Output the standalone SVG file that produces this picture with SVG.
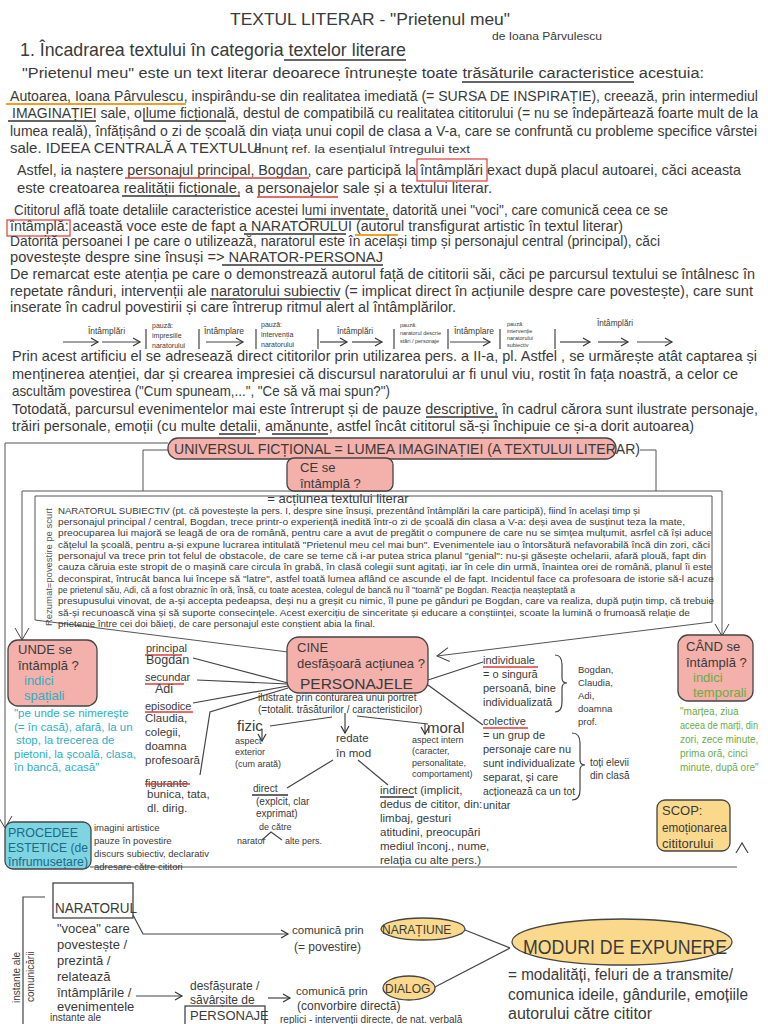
<svg xmlns="http://www.w3.org/2000/svg" width="768" height="1024" viewBox="0 0 768 1024">
<defs>
<style>
text{font-family:"Liberation Sans",Arial,sans-serif;fill:#3a3a3a}
.p{font-size:14.5px}
.w{font-size:14px}
.q{font-size:14px}
.s{font-size:9.5px}
.f{font-size:7px}
.ff{font-size:5.5px}
.m{font-size:11.5px}
.k{font-size:11px}
.n{font-size:13px}
.cy{fill:#2ab0c5}
.gr{fill:#6aad48}
.bl{fill:#1b6a86}
.ul{stroke:#333;stroke-width:1.3;fill:none}
.ur{stroke:#e03a3a;stroke-width:1.5;fill:none}
.uo{stroke:#f0a020;stroke-width:2;fill:none}
.ln{stroke:#444;stroke-width:1.2;fill:none}
.lt{stroke:#555;stroke-width:1;fill:none}
.pink{fill:#f4b0aa;stroke:#444;stroke-width:1.3}
.cyan{fill:#7fd4e2;stroke:#444;stroke-width:1.3}
.yel{fill:#fad98d;stroke:#444;stroke-width:1.3}
</style>
<marker id="ar" markerWidth="10" markerHeight="10" refX="8" refY="5" orient="auto" markerUnits="userSpaceOnUse"><path d="M1,1 L8,5 L1,9" fill="none" stroke="#333" stroke-width="1.2"/></marker>
<marker id="big" markerWidth="16" markerHeight="16" refX="13" refY="8" orient="auto" markerUnits="userSpaceOnUse"><path d="M1,1 L13,8 L1,15" fill="none" stroke="#444" stroke-width="1"/></marker>
</defs>
<rect width="768" height="1024" fill="#fff"/>

<g id="header">
<text x="230" y="25" font-size="17" textLength="280" lengthAdjust="spacingAndGlyphs">TEXTUL LITERAR - "Prietenul meu"</text>
<text x="492" y="40" font-size="11" textLength="110" lengthAdjust="spacingAndGlyphs">de Ioana Pârvulescu</text>
<text x="20" y="56" font-size="19" textLength="386" lengthAdjust="spacingAndGlyphs">1. Încadrarea textului în categoria textelor literare</text>
<line class="ul" x1="284" y1="60" x2="406" y2="60"/>
</g>

<g id="intro">
<text x="22" y="78" font-size="15.5" textLength="682" lengthAdjust="spacingAndGlyphs">"Prietenul meu" este un text literar deoarece întrunește toate trăsăturile caracteristice acestuia:</text>
<line class="ul" x1="462" y1="82" x2="634" y2="82"/>
<text class="w" x="10" y="101" textLength="748" lengthAdjust="spacingAndGlyphs">Autoarea, Ioana Pârvulescu, inspirându-se din realitatea imediată (= SURSA DE INSPIRAȚIE), creează, prin intermediul</text>
<line class="uo" x1="6" y1="104" x2="186" y2="104"/>
<text class="w" x="12" y="118" textLength="746" lengthAdjust="spacingAndGlyphs">IMAGINAȚIEI sale, o lume ficțională, destul de compatibilă cu realitatea cititorului (= nu se îndepărtează foarte mult de la</text>
<line class="ul" x1="8" y1="121" x2="96" y2="121"/>
<path class="ul" d="M144,108 L144,121 L226,121"/>
<text class="w" x="10" y="136" textLength="747" lengthAdjust="spacingAndGlyphs">lumea reală), înfățișând o zi de școală din viața unui copil de clasa a V-a, care se confruntă cu probleme specifice vârstei</text>
<text class="p" x="10" y="153" textLength="252" lengthAdjust="spacingAndGlyphs">sale.  IDEEA CENTRALĂ A TEXTULUI</text>
<text x="254" y="153" font-size="11" textLength="216" lengthAdjust="spacingAndGlyphs">enunț ref. la esențialul întregului text</text>

<text class="p" x="17" y="175" textLength="724" lengthAdjust="spacingAndGlyphs">Astfel, ia naștere personajul principal, Bogdan, care participă la întâmplări exact după placul autoarei, căci aceasta</text>
<line class="ur" x1="125" y1="178" x2="309" y2="178"/>
<rect x="417" y="159" width="70" height="22" fill="none" stroke="#e03a3a" stroke-width="1.2"/>
<text class="p" x="17" y="193" textLength="475" lengthAdjust="spacingAndGlyphs">este creatoarea realității ficționale, a personajelor sale și a textului literar.</text>
<line class="ul" x1="122" y1="196" x2="240" y2="196"/>
<line class="ur" x1="257" y1="197" x2="338" y2="197"/>

<text class="q" x="14" y="215" textLength="654" lengthAdjust="spacingAndGlyphs">Cititorul află toate detaliile caracteristice acestei lumi inventate, datorită unei "voci", care comunică ceea ce se</text>
<line class="ul" x1="305" y1="219" x2="389" y2="219"/>
<text class="q" x="10" y="231" textLength="613" lengthAdjust="spacingAndGlyphs">întâmplă: această voce este de fapt a NARATORULUI (autorul transfigurat artistic în textul literar)</text>
<rect x="7" y="220" width="63" height="16" fill="none" stroke="#e03a3a" stroke-width="1.2"/>
<line class="ul" x1="244" y1="234" x2="346" y2="234"/>
<line class="uo" x1="355" y1="235" x2="398" y2="235"/>
<text class="q" x="10" y="246" textLength="650" lengthAdjust="spacingAndGlyphs">Datorită persoanei I pe care o utilizează, naratorul este în același timp și personajul central (principal), căci</text>
<text class="q" x="10" y="262" textLength="373" lengthAdjust="spacingAndGlyphs">povestește despre sine însuși =&gt; NARATOR-PERSONAJ</text>
<line class="ul" x1="222" y1="265" x2="383" y2="265"/>
<text class="q" x="10" y="279" textLength="745" lengthAdjust="spacingAndGlyphs">De remarcat este atenția pe care o demonstrează autorul față de cititorii săi, căci pe parcursul textului se întâlnesc în</text>
<text class="q" x="10" y="296" textLength="743" lengthAdjust="spacingAndGlyphs">repetate rânduri, intervenții ale naratorului subiectiv (= implicat direct în acțiunile despre care povestește), care sunt</text>
<line class="ul" x1="210" y1="299" x2="340" y2="299"/>
<text class="q" x="10" y="312" textLength="446" lengthAdjust="spacingAndGlyphs">inserate în cadrul povestirii și care întrerup ritmul alert al întâmplărilor.</text>
</g>

<g id="flow">
<text x="88" y="334" font-size="9" textLength="37" lengthAdjust="spacingAndGlyphs">Întâmplări</text>
<text class="f" x="152" y="328">pauză:</text>
<text class="f" x="152" y="338">impresiile</text>
<text class="f" x="152" y="348">naratorului</text>
<text x="204" y="334" font-size="9" textLength="40" lengthAdjust="spacingAndGlyphs">Întâmplare</text>
<text class="f" x="261" y="327">pauză:</text>
<text class="f" x="261" y="337">intervenția</text>
<text class="f" x="261" y="347">naratorului</text>
<text x="337" y="334" font-size="9" textLength="36" lengthAdjust="spacingAndGlyphs">Întâmplări</text>
<text class="ff" x="400" y="327">pauză:</text>
<text class="ff" x="400" y="335">naratorul descrie</text>
<text class="ff" x="400" y="343">stări / personaje</text>
<text x="454" y="334" font-size="9" textLength="40" lengthAdjust="spacingAndGlyphs">Întâmplare</text>
<text class="ff" x="507" y="326">pauză:</text>
<text class="ff" x="507" y="333">intervenție</text>
<text class="ff" x="507" y="340">naratorului</text>
<text class="ff" x="507" y="347">subiectiv</text>
<text x="597" y="326" font-size="9" textLength="36" lengthAdjust="spacingAndGlyphs">Întâmplări</text>
<g class="ln" marker-end="url(#ar)">
<line x1="63" y1="342" x2="98" y2="342"/>
<line x1="102" y1="342" x2="140" y2="342"/>
<line x1="206" y1="342" x2="243" y2="342"/>
<line x1="320" y1="342" x2="347" y2="342"/>
<line x1="352" y1="342" x2="382" y2="342"/>
<line x1="450" y1="342" x2="490" y2="342"/>
<line x1="560" y1="342" x2="590" y2="342"/>
<line x1="598" y1="342" x2="628" y2="342"/>
<line x1="637" y1="342" x2="672" y2="342"/>
</g>
<g class="ln">
<line x1="146" y1="329" x2="146" y2="349"/>
<line x1="199" y1="329" x2="199" y2="349"/>
<line x1="256" y1="329" x2="256" y2="349"/>
<line x1="318" y1="329" x2="318" y2="349"/>
<line x1="394" y1="329" x2="394" y2="349"/>
<line x1="448" y1="329" x2="448" y2="349"/>
<line x1="500" y1="329" x2="500" y2="349"/>
<line x1="555" y1="329" x2="555" y2="349"/>
</g>
</g>

<g id="after-flow">
<text class="p" x="12" y="361" textLength="745" lengthAdjust="spacingAndGlyphs">Prin acest artificiu el se adresează direct cititorilor prin utilizarea pers. a II-a, pl. Astfel , se urmărește atât captarea și</text>
<text class="p" x="12" y="379" textLength="726" lengthAdjust="spacingAndGlyphs">menținerea atenției, dar și crearea impresiei că discursul naratorului ar fi unul viu, rostit în fața noastră, a celor ce</text>
<text class="p" x="12" y="396" textLength="378" lengthAdjust="spacingAndGlyphs">ascultăm povestirea ("Cum spuneam,...", "Ce să vă mai spun?")</text>
<text class="p" x="12" y="414" textLength="746" lengthAdjust="spacingAndGlyphs">Totodată, parcursul evenimentelor mai este întrerupt și de pauze descriptive, în cadrul cărora sunt ilustrate personaje,</text>
<line class="ul" x1="426" y1="417" x2="498" y2="417"/>
<text class="p" x="12" y="431" textLength="682" lengthAdjust="spacingAndGlyphs">trăiri personale, emoții (cu multe detalii, amănunte, astfel încât cititorul să-și închipuie ce și-a dorit autoarea)</text>
<line class="ul" x1="219" y1="434" x2="256" y2="434"/>
<line class="ul" x1="272" y1="434" x2="328" y2="434"/>
</g>

<g id="connectors">
<polyline class="lt" points="168,443 5,443 5,828" marker-end="url(#big)"/>
<polyline class="lt" points="168,450 143,450 143,491"/>
<polyline class="lt" points="640,450 656,450 656,491"/>
<line class="lt" x1="22" y1="491" x2="722" y2="491"/>
<line class="lt" x1="22" y1="491" x2="22" y2="640" marker-end="url(#big)"/>
<line class="lt" x1="722" y1="491" x2="722" y2="636" marker-end="url(#big)"/>
<polyline class="lt" points="35,620 35,496 712,496 712,622"/>
<line class="lt" x1="35" y1="620" x2="288" y2="652"/>
<line class="lt" x1="712" y1="622" x2="437" y2="656" marker-end="url(#big)"/>
<line class="ln" x1="193" y1="658" x2="288" y2="683"/>
<line class="ln" x1="197" y1="680" x2="288" y2="684"/>
<line class="ln" x1="193" y1="703" x2="288" y2="686"/>
<polyline class="ln" points="200,775 210,712 288,688"/>
<line class="ln" x1="428" y1="680" x2="483" y2="662"/>
<line class="ln" x1="428" y1="685" x2="483" y2="725"/>
<line class="ln" x1="270" y1="726" x2="332" y2="717"/>
<line class="ln" x1="357" y1="716" x2="428" y2="724"/>
<line class="ln" x1="345" y1="713" x2="345" y2="733" marker-end="url(#ar)"/>
<line class="ln" x1="262" y1="729" x2="262" y2="741" marker-end="url(#ar)"/>
<line class="ln" x1="425" y1="724" x2="425" y2="734" marker-end="url(#ar)"/>
<line class="ln" x1="333" y1="760" x2="287" y2="788"/>
<line class="ln" x1="358" y1="760" x2="388" y2="785"/>
<polyline class="ln" points="262,840 271,832 282,840"/>
<path class="ln" d="M555,655 Q562,655 562,665 L562,678 Q562,683 567,683 Q562,683 562,688 L562,702 Q562,712 555,712"/>
<path class="ln" d="M572,733 Q580,733 580,743 L580,760 Q580,765 585,765 Q580,765 580,770 L580,790 Q580,800 572,800"/>
<path class="ln" d="M736,853 L742,843 L748,853"/>
<line class="lt" x1="90" y1="867" x2="737" y2="867"/>
<polyline class="ln" points="45,897 23,897 23,1024"/>
<polyline class="ln" points="133,915 143,934 288,934" marker-end="url(#ar)"/>
<line class="ln" x1="136" y1="996" x2="182" y2="996" marker-end="url(#ar)"/>
<line class="ln" x1="268" y1="998" x2="290" y2="998" marker-end="url(#ar)"/>
<line class="ln" x1="465" y1="930" x2="510" y2="948"/>
<line class="ln" x1="433" y1="988" x2="510" y2="948"/>
</g>

<g id="universul">
<rect class="pink" x="168" y="438" width="448" height="21" rx="10"/>
<text x="174" y="454" font-size="14.5" textLength="466" lengthAdjust="spacingAndGlyphs">UNIVERSUL FICȚIONAL  =  LUMEA IMAGINAȚIEI (A TEXTULUI LITERAR)</text>
</g>

<g id="ce">
<rect class="pink" x="287" y="458" width="106" height="33" rx="7"/>
<text class="n" x="300" y="472">CE se</text>
<text class="n" x="300" y="488">întâmplă ?</text>
<text class="n" x="338" y="503" text-anchor="middle">= acțiunea textului literar</text>
</g>

<g id="rezumat">
<text class="s" transform="translate(52,626) rotate(-90)" textLength="118" lengthAdjust="spacingAndGlyphs" style="fill:#555">Rezumat=povestire pe scurt</text>
<text class="s" x="58" y="514" textLength="582" lengthAdjust="spacingAndGlyphs">NARATORUL SUBIECTIV (pt. că povestește la pers. I, despre sine însuși, prezentând întâmplări la care participă), fiind în același timp și</text>
<text class="s" x="58" y="525" textLength="627" lengthAdjust="spacingAndGlyphs">personajul principal / central, Bogdan, trece printr-o experiență inedită într-o zi de școală din clasa a V-a: deși avea de susținut teza la mate,</text>
<text class="s" x="58" y="536" textLength="654" lengthAdjust="spacingAndGlyphs">preocuparea lui majoră se leagă de ora de română, pentru care a avut de pregătit o compunere de care nu se simțea mulțumit, asrfel că își aduce</text>
<text class="s" x="58" y="548" textLength="652" lengthAdjust="spacingAndGlyphs">cățelul la școală, pentru a-și expune lucrarea intitulată "Prietenul meu cel mai bun". Evenimentele iau o întorsătură nefavorabilă încă din zori, căci</text>
<text class="s" x="58" y="559" textLength="648" lengthAdjust="spacingAndGlyphs">personajul va trece prin tot felul de obstacole, de care se teme că i-ar putea strica planul "genial": nu-și găsește ochelarii, afară plouă, fapt din</text>
<text class="s" x="58" y="570" textLength="654" lengthAdjust="spacingAndGlyphs">cauza căruia este stropit de o mașină care circula în grabă, în clasă colegii sunt agitați, iar în cele din urmă, înaintea orei de română, planul îi este</text>
<text class="s" x="58" y="582" textLength="656" lengthAdjust="spacingAndGlyphs">deconspirat, întrucât banca lui începe să "latre", astfel toată lumea aflând ce ascunde el de fapt. Incidentul face ca profesoara de istorie să-l acuze</text>
<text class="s" x="58" y="593" textLength="517" lengthAdjust="spacingAndGlyphs">pe prietenul său, Adi, că a fost obraznic în oră, însă, cu toate acestea, colegul de bancă nu îl "toarnă" pe Bogdan. Reacția neașteptată a</text>
<text class="s" x="58" y="604" textLength="656" lengthAdjust="spacingAndGlyphs">presupusului vinovat, de a-și accepta pedeapsa, deși nu a greșit cu nimic, îl pune pe gânduri pe Bogdan, care va realiza, după puțin timp, că trebuie</text>
<text class="s" x="58" y="616" textLength="632" lengthAdjust="spacingAndGlyphs">să-și recunoască vina și să suporte consecințele. Acest exercițiu de sinceritate și educare a conștiinței, scoate la lumină o frumoasă relație de</text>
<text class="s" x="58" y="627" textLength="317" lengthAdjust="spacingAndGlyphs">prietenie între cei doi băieți, de care personajul este conștient abia la final.</text>
</g>

<g id="unde">
<rect class="pink" x="8" y="640" width="89" height="66" rx="10"/>
<text class="n" x="18" y="654">UNDE se</text>
<text class="n" x="18" y="670">întâmplă ?</text>
<text class="n cy" x="24" y="685">indici</text>
<text class="n cy" x="24" y="700">spațiali</text>
<text class="m cy" x="14" y="717">"pe unde se nimerește</text>
<text class="m cy" x="14" y="731">(= în casă), afară, la un</text>
<text class="m cy" x="16" y="744">stop, la trecerea de</text>
<text class="m cy" x="14" y="758">pietoni, la școală, clasa,</text>
<text class="m cy" x="14" y="771">în bancă, acasă"</text>
</g>

<g id="tipuri-personaje">
<text x="146" y="652" font-size="11">principal</text>
<line class="ur" x1="145" y1="655" x2="182" y2="655"/>
<text x="146" y="664" font-size="12.5">Bogdan</text>
<text x="145" y="681" font-size="11">secundar</text>
<line class="ur" x1="145" y1="684" x2="184" y2="684"/>
<text x="155" y="693" font-size="12.5">Adi</text>
<text x="145" y="710" font-size="11">episodice</text>
<line class="ur" x1="145" y1="712" x2="193" y2="712"/>
<text class="m" x="145" y="722">Claudia,</text>
<text class="m" x="145" y="736">colegii,</text>
<text class="m" x="145" y="750">doamna</text>
<text class="m" x="145" y="764">profesoară</text>
<text x="145" y="787" font-size="11">figurante</text>
<line class="ur" x1="145" y1="784" x2="190" y2="784"/>
<text class="m" x="147" y="798">bunica, tata,</text>
<text class="m" x="147" y="812">dl. dirig.</text>
</g>

<g id="cine">
<rect class="pink" x="287" y="637" width="141" height="56" rx="12"/>
<text class="n" x="297" y="652">CINE</text>
<text class="n" x="297" y="668">desfășoară acțiunea ?</text>
<text x="300" y="689" font-size="15.5">PERSONAJELE</text>
<text x="258" y="701" font-size="10">ilustrate prin conturarea unui portret</text>
<text x="258" y="713" font-size="10">(=totalit. trăsăturilor / caracteristicilor)</text>
</g>

<g id="fizic">
<text x="237" y="731" font-size="15">fizic</text>
<text x="235" y="744" font-size="9">aspect</text>
<text x="235" y="755" font-size="9">exterior</text>
<text x="235" y="767" font-size="9">(cum arată)</text>
</g>

<g id="redate">
<text x="336" y="742" font-size="11.5">redate</text>
<text x="336" y="757" font-size="11.5">în mod</text>
</g>

<g id="moral">
<text x="427" y="733" font-size="15">moral</text>
<text x="412" y="743" font-size="9">aspect intern</text>
<text x="412" y="754" font-size="9">(caracter,</text>
<text x="412" y="766" font-size="9">personalitate,</text>
<text x="412" y="777" font-size="9">comportament)</text>
</g>

<g id="direct">
<text x="253" y="792" font-size="10">direct</text>
<line class="ul" x1="252" y1="795" x2="288" y2="795"/>
<text x="256" y="805" font-size="10">(explcit, clar</text>
<text x="256" y="817" font-size="10">exprimat)</text>
<text x="259" y="830" font-size="9">de către</text>
<text x="237" y="844" font-size="9">narator</text>
<text x="285" y="844" font-size="9">alte pers.</text>
</g>

<g id="indirect">
<text class="m" x="380" y="794">indirect (implicit,</text>
<line class="ul" x1="380" y1="797" x2="414" y2="797"/>
<text class="m" x="380" y="808">dedus de cititor, din:</text>
<text class="m" x="380" y="822">limbaj, gesturi</text>
<text class="m" x="380" y="836">atitudini, preocupări</text>
<text class="m" x="380" y="850">mediul înconj., nume,</text>
<text class="m" x="380" y="864">relația cu alte pers.)</text>
</g>

<g id="individuale">
<text class="k" x="483" y="664">individuale</text>
<line class="ur" x1="483" y1="667" x2="538" y2="667"/>
<text class="k" x="483" y="678">= o singură</text>
<text class="k" x="483" y="692">persoană, bine</text>
<text class="k" x="483" y="706">individualizată</text>
<text x="578" y="673" font-size="9.5">Bogdan,</text>
<text x="578" y="686" font-size="9.5">Claudia,</text>
<text x="578" y="699" font-size="9.5">Adi,</text>
<text x="578" y="712" font-size="9.5">doamna</text>
<text x="578" y="725" font-size="9.5">prof.</text>
</g>

<g id="colective">
<text class="k" x="483" y="725">colective</text>
<line class="ur" x1="483" y1="728" x2="528" y2="728"/>
<text class="k" x="483" y="739">= un grup de</text>
<text class="k" x="483" y="753">personaje care nu</text>
<text class="k" x="483" y="767" textLength="92" lengthAdjust="spacingAndGlyphs">sunt individualizate</text>
<text class="k" x="483" y="781">separat, și care</text>
<text class="k" x="483" y="795" textLength="92" lengthAdjust="spacingAndGlyphs">acționează ca un tot</text>
<text class="k" x="483" y="809">unitar</text>
<text x="590" y="766" font-size="10">toți elevii</text>
<text x="590" y="779" font-size="10">din clasă</text>
</g>

<g id="cand">
<rect class="pink" x="678" y="635" width="75" height="66" rx="10"/>
<text class="n" x="686" y="651">CÂND se</text>
<text class="n" x="686" y="667">întâmplă ?</text>
<text class="n gr" x="693" y="682">indici</text>
<text class="n gr" x="693" y="697">temporali</text>
<text class="gr" x="680" y="715" font-size="10">"marțea, ziua</text>
<text class="gr" x="680" y="729" font-size="10" textLength="78" lengthAdjust="spacingAndGlyphs">aceea de marți, din</text>
<text class="gr" x="680" y="743" font-size="10">zori, zece minute,</text>
<text class="gr" x="680" y="757" font-size="10">prima oră, cinci</text>
<text class="gr" x="680" y="771" font-size="10">minute, după ore"</text>
</g>

<g id="scop">
<rect class="yel" x="657" y="800" width="73" height="51" rx="8"/>
<text class="n" x="662" y="815">SCOP:</text>
<text class="n" x="662" y="832" textLength="65" lengthAdjust="spacingAndGlyphs">emoționarea</text>
<text class="n" x="662" y="848">cititorului</text>
</g>

<g id="procedee">
<rect class="cyan" x="5" y="822" width="86" height="47" rx="8"/>
<text class="bl" x="8" y="837" font-size="12.5" textLength="70" lengthAdjust="spacingAndGlyphs">PROCEDEE</text>
<text class="bl" x="8" y="852" font-size="12.5" textLength="80" lengthAdjust="spacingAndGlyphs">ESTETICE (de</text>
<text class="bl" x="8" y="866" font-size="12.5" textLength="80" lengthAdjust="spacingAndGlyphs">înfrumusețare)</text>
<text class="s" x="94" y="831">imagini artistice</text>
<text class="s" x="94" y="844">pauze în povestire</text>
<text class="s" x="94" y="857">discurs subiectiv, declarativ</text>
<text class="s" x="94" y="870">adresare către cititori</text>
</g>

<g id="instante">
<text font-size="10" transform="translate(20,1003) rotate(-90)">instante ale</text>
<text font-size="10" transform="translate(34,1002) rotate(-90)">comunicării</text>
<text font-size="10" x="50" y="1021">instante ale</text>
</g>

<g id="narator">
<rect x="53" y="883" width="80" height="35" fill="none" stroke="#444" stroke-width="1.3"/>
<text x="55" y="913" font-size="15" textLength="82" lengthAdjust="spacingAndGlyphs">NARATORUL</text>
<text class="n" x="57" y="933">"vocea" care</text>
<text class="n" x="57" y="949">povestește /</text>
<text class="n" x="57" y="965">prezintă /</text>
<text class="n" x="57" y="981">relatează</text>
<text class="n" x="57" y="997">întâmplările /</text>
<text class="n" x="57" y="1011">evenimentele</text>
</g>

<g id="personaje">
<text x="190" y="990" font-size="12">desfășurate /</text>
<text x="190" y="1004" font-size="12">săvârșite de</text>
<rect x="185" y="1006" width="80" height="22" fill="none" stroke="#444" stroke-width="1.3"/>
<text x="190" y="1020" font-size="13">PERSONAJE</text>
</g>

<g id="naratiune">
<text x="292" y="934" font-size="11.5">comunică prin</text>
<ellipse class="yel" cx="423" cy="929" rx="42" ry="11"/>
<text x="382" y="934" font-size="12">NARAȚIUNE</text>
<text x="294" y="951" font-size="12">(= povestire)</text>
</g>

<g id="dialog">
<text x="296" y="995" font-size="11.5">comunică prin</text>
<ellipse class="yel" cx="409" cy="988" rx="26" ry="12"/>
<text x="385" y="993" font-size="12">DIALOG</text>
<text x="297" y="1010" font-size="12">(convorbire directă)</text>
<text x="280" y="1023" font-size="10">replici - intervenții directe, de nat. verbală</text>
</g>

<g id="moduri">
<ellipse class="yel" cx="622" cy="942" rx="110" ry="23"/>
<text x="523" y="954" font-size="20" textLength="204" lengthAdjust="spacingAndGlyphs">MODURI DE EXPUNERE</text>
<text x="508" y="980" font-size="16" textLength="225" lengthAdjust="spacingAndGlyphs">= modalități, feluri de a transmite/</text>
<text x="508" y="1000" font-size="16" textLength="240" lengthAdjust="spacingAndGlyphs">comunica ideile, gândurile, emoțiile</text>
<text x="508" y="1019" font-size="16">autorului către cititor</text>
</g>
</svg>
